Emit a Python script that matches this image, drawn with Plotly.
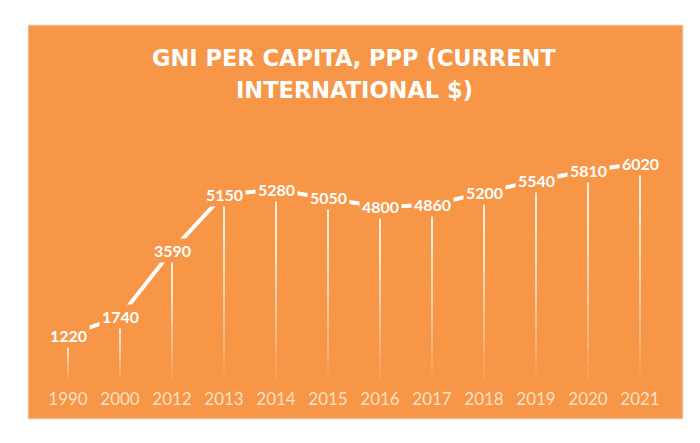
import plotly.graph_objects as go

years = ["1990", "2000", "2012", "2013", "2014", "2015", "2016", "2017", "2018", "2019", "2020", "2021"]
gni = [1220, 1740, 3590, 5150, 5280, 5050, 4800, 4860, 5200, 5540, 5810, 6020]

ORANGE = "#F79646"
FONT = "Lato"

fig = go.Figure()

# drop lines with fading opacity (split each into pieces)
n_pieces = 14
for i, (yr, v) in enumerate(zip(years, gni)):
    for k in range(n_pieces):
        y_top = v * (1 - k / n_pieces)
        y_bot = v * (1 - (k + 1) / n_pieces)
        alpha = 1.0 - 0.9 * (k / (n_pieces - 1)) ** 1.6
        fig.add_trace(go.Scatter(
            x=[yr, yr], y=[y_top, y_bot], mode="lines",
            line=dict(color=f"rgba(255,255,255,{alpha:.3f})", width=1.7),
            hoverinfo="skip", showlegend=False))

fig.add_trace(go.Scatter(
    x=years, y=gni, mode="lines",
    line=dict(color="white", width=4),
    showlegend=False))

for i, v in enumerate(gni):
    fig.add_annotation(
        x=i, y=v, xref="x", yref="y", text=f"<b>{v}</b>", showarrow=False,
        font=dict(family=FONT, size=16, color="white"),
        bgcolor=ORANGE, borderpad=2)

# title lines
TFONT = "DejaVu Sans"
fig.add_annotation(x=0.5, y=(379 - 57.5) / 233, xref="paper", yref="paper",
                   text="<b>GNI PER CAPITA, PPP (CURRENT</b>", showarrow=False,
                   font=dict(family=TFONT, size=22.5, color="white"),
                   xanchor="center", yanchor="middle")
fig.add_annotation(x=0.5, y=(379 - 89.5) / 233, xref="paper", yref="paper",
                   text="<b>INTERNATIONAL $)</b>", showarrow=False,
                   font=dict(family=TFONT, size=22.5, color="white"),
                   xanchor="center", yanchor="middle")

# orange background box
L, R, T, B = 42, 34, 146, 64
pw, ph = 700 - L - R, 443 - T - B
def px(x): return (x - L) / pw
def py(y): return (443 - B - y) / ph
fig.add_shape(type="rect", xref="paper", yref="paper",
              x0=px(28), x1=px(683), y0=py(419), y1=py(25),
              fillcolor=ORANGE, line=dict(color="#E8E4E0", width=1), layer="below")

fig.update_layout(
    width=700, height=443,
    margin=dict(l=L, r=R, t=T, b=B),
    paper_bgcolor="white", plot_bgcolor="rgba(0,0,0,0)",
    showlegend=False,
    xaxis=dict(type="category", range=[-0.5, 11.5], showgrid=False, zeroline=False,
               showline=False, ticks="", tickfont=dict(family=FONT, size=17, color="#FCE0C4"),
               ticklabelstandoff=8),
    yaxis=dict(range=[0, 6500], visible=False),
)

fig.write_html("out.html")
